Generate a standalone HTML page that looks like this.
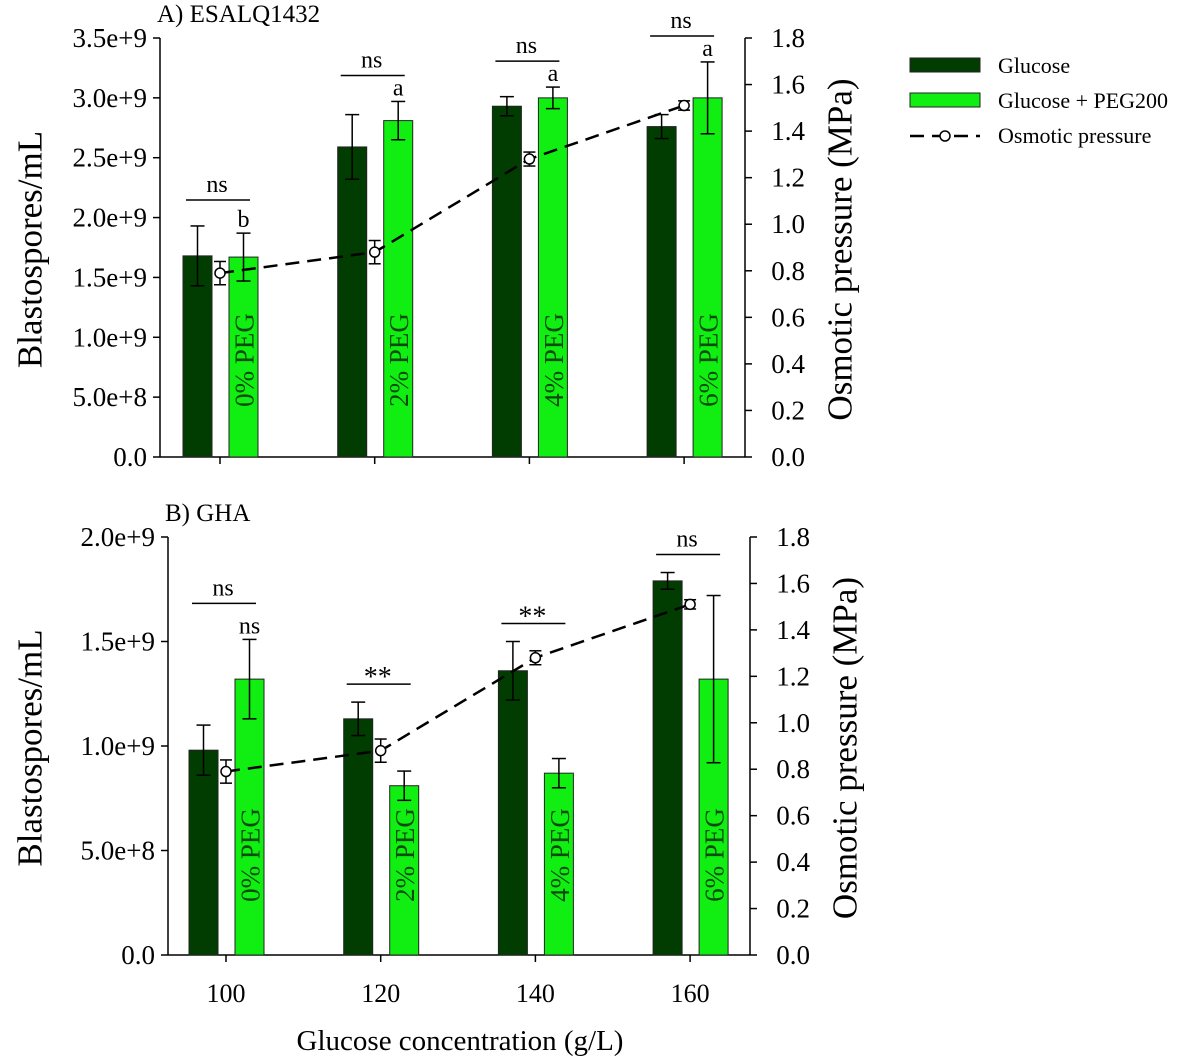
<!DOCTYPE html>
<html><head><meta charset="utf-8"><style>
body{margin:0;background:#fff}
svg text{font-family:"Liberation Serif",serif;fill:#000}
</style></head><body>
<svg id="c" width="1200" height="1057" xmlns="http://www.w3.org/2000/svg"></svg>
<script>
const categories=["100","120","140","160"];
const glucoseA=[1.68e9,2.59e9,2.93e9,2.76e9];
const glucoseErrA=[0.25e9,0.27e9,0.08e9,0.1e9];
const pegA=[1.67e9,2.81e9,3.0e9,3.0e9];
const pegErrA=[0.2e9,0.16e9,0.09e9,0.3e9];
const glucoseB=[0.98e9,1.13e9,1.36e9,1.79e9];
const glucoseErrB=[0.12e9,0.08e9,0.14e9,0.04e9];
const pegB=[1.32e9,0.81e9,0.87e9,1.32e9];
const pegErrB=[0.19e9,0.07e9,0.07e9,0.4e9];
const osmotic=[0.79,0.88,1.28,1.51];
const osmoticErr=[0.05,0.05,0.03,0.02];
const pegLabels=["0% PEG","2% PEG","4% PEG","6% PEG"];
const sigA=["ns","ns","ns","ns"];
const lettersA=["b","a","a","a"];
const sigB=["ns","**","**","ns"];
const lettersB=["ns","","",""];
const leftTicksA=["0.0","5.0e+8","1.0e+9","1.5e+9","2.0e+9","2.5e+9","3.0e+9","3.5e+9"];
const leftTicksB=["0.0","5.0e+8","1.0e+9","1.5e+9","2.0e+9"];
const rightTicks=["0.0","0.2","0.4","0.6","0.8","1.0","1.2","1.4","1.6","1.8"];

const svg=document.getElementById('c');
const NS="http://www.w3.org/2000/svg";
function el(tag,attrs,parent){const e=document.createElementNS(NS,tag);for(const k in attrs)e.setAttribute(k,attrs[k]);(parent||svg).appendChild(e);return e;}
function txt(s,attrs,parent){const e=el('text',attrs,parent);e.textContent=s;return e;}
const DARK="#013d01",LIGHT="#11ee11";

function panel(p){
  const g=el('g',{});
  
  
  const yL=v=>p.bottom-(v/p.lmax)*(p.bottom-p.top);
  const yR=v=>p.bottom-(v/1.8)*(p.bottom-p.top);
  const xC=i=>p.x0+i*p.step;
  el('line',{x1:p.left,y1:p.top,x2:p.left,y2:p.bottom,stroke:'#000','stroke-width':1.5},g);
  el('line',{x1:p.right,y1:p.top,x2:p.right,y2:p.bottom,stroke:'#000','stroke-width':1.5},g);
  el('line',{x1:p.left,y1:p.bottom,x2:p.right,y2:p.bottom,stroke:'#000','stroke-width':1.5},g);
  p.lticks.forEach((t,i)=>{const v=i*5e8;const y=yL(v);
    el('line',{x1:p.left-7,y1:y,x2:p.left,y2:y,stroke:'#000','stroke-width':1.5},g);
    const tt=txt(t,{x:p.left-13,y:y+9,'font-size':27,'text-anchor':'end'},g);
    });
  rightTicks.forEach((t,i)=>{const y=yR(i*0.2);
    el('line',{x1:p.right,y1:y,x2:p.right+7,y2:y,stroke:'#000','stroke-width':1.5},g);
    const tt=txt(t,{x:p.right+60,y:y+9,'font-size':27,'text-anchor':'end'},g);
    });
  categories.forEach((c,i)=>{
    el('line',{x1:xC(i),y1:p.bottom,x2:xC(i),y2:p.bottom+7,stroke:'#000','stroke-width':1.5},g);
    if(p.xlabels){const tt=txt(c,{x:xC(i),y:p.bottom+47,'font-size':26,'text-anchor':'middle'},g);
      }
  });
  categories.forEach((c,i)=>{
    const xd=xC(i)-37, xl=xC(i)+9, w=29;
    const b1=el('rect',{x:xd,y:yL(p.gl[i]),width:w,height:p.bottom-yL(p.gl[i]),fill:DARK,stroke:'#222','stroke-width':1},g);
    
    
    const b2=el('rect',{x:xl,y:yL(p.pg[i]),width:w,height:p.bottom-yL(p.pg[i]),fill:LIGHT,stroke:'#222','stroke-width':1},g);
    
    
    [[xd+w/2,p.gl[i],p.gle[i]],[xl+w/2,p.pg[i],p.pge[i]]].forEach(([x,v,e])=>{
      const y1=yL(v+e),y2=yL(v-e);
      el('line',{x1:x,y1:y1,x2:x,y2:y2,stroke:'#000','stroke-width':1.5},g);
      el('line',{x1:x-7,y1:y1,x2:x+7,y2:y1,stroke:'#000','stroke-width':1.5},g);
      el('line',{x1:x-7,y1:y2,x2:x+7,y2:y2,stroke:'#000','stroke-width':1.5},g);
    });
    const cx=xl+w/2+1, cy=p.pegTextY;
    const pt=txt(pegLabels[i],{x:cx,y:cy,'font-size':27,'text-anchor':'middle',transform:`rotate(-90 ${cx} ${cy})`,'dominant-baseline':'central'},g);
    pt.style.fill='#0a4a0a';
    
    const topY=Math.min(yL(p.gl[i]+p.gle[i]),yL(p.pg[i]+p.pge[i]))-(p.letters[i]?p.letterOff:18);
    el('line',{x1:xC(i)-34,y1:topY,x2:xC(i)+30,y2:topY,stroke:'#000','stroke-width':1.5},g);
    const st=txt(p.sig[i],{x:xC(i)-3,y:topY-(p.sig[i]=='**'?-2:8),'font-size':p.sig[i]=='**'?28:24,'text-anchor':'middle'},g);
    
    if(p.letters[i]){const lt=txt(p.letters[i],{x:xl+w/2,y:yL(p.pg[i]+p.pge[i])-6,'font-size':24,'text-anchor':'middle'},g);
      }
  });
  const pts=osmotic.map((v,i)=>[xC(i),yR(v)]);
  const ln=el('polyline',{points:pts.map(q=>q.join(',')).join(' '),fill:'none',stroke:'#000','stroke-width':2.5,'stroke-dasharray':'14,8'},g);
  
  osmotic.forEach((v,i)=>{const x=xC(i);const y1=yR(v+osmoticErr[i]),y2=yR(v-osmoticErr[i]);
    el('line',{x1:x,y1:y1,x2:x,y2:y2,stroke:'#000','stroke-width':1.5},g);
    el('line',{x1:x-6,y1:y1,x2:x+6,y2:y1,stroke:'#000','stroke-width':1.5},g);
    el('line',{x1:x-6,y1:y2,x2:x+6,y2:y2,stroke:'#000','stroke-width':1.5},g);
    const c=el('circle',{cx:x,cy:yR(v),r:5,fill:'#fff',stroke:'#000','stroke-width':1.5},g);
    
  });
  const tl=txt(p.title,{x:p.left-3,y:p.top-16,'font-size':25},g);
  
  const ly=(p.top+p.bottom)/2+2;
  const yt=txt('Blastospores/mL',{x:30,y:ly,'font-size':35,'text-anchor':'middle','dominant-baseline':'central',transform:`rotate(-90 30 ${ly})`},g);
  
  const rx=p.right+95;
  const rt=txt('Osmotic pressure (MPa)',{x:rx,y:ly,'font-size':35,'text-anchor':'middle','dominant-baseline':'central',transform:`rotate(-90 ${rx} ${ly})`},g);
  
}
panel({name:'panel-a',title:'A) ESALQ1432',left:160,right:745,top:38,bottom:457,lmax:3.5e9,x0:220,step:154.7,
  gl:glucoseA,gle:glucoseErrA,pg:pegA,pge:pegErrA,sig:sigA,letters:lettersA,lticks:leftTicksA,pegTextY:360,xlabels:false,letterOff:26});
panel({name:'panel-b',title:'B) GHA',left:168,right:750,top:537,bottom:955,lmax:2e9,x0:226,step:154.7,
  gl:glucoseB,gle:glucoseErrB,pg:pegB,pge:pegErrB,sig:sigB,letters:lettersB,lticks:leftTicksB,pegTextY:855,xlabels:true,letterOff:36});
const xt=txt('Glucose concentration (g/L)',{x:460,y:1050,'font-size':29,'text-anchor':'middle'});

const lg=el('g',{});


el('rect',{x:910,y:58,width:70,height:14,fill:DARK,stroke:'#222'},lg);
txt('Glucose',{x:998,y:73,'font-size':22},lg);
el('rect',{x:910,y:93,width:70,height:14,fill:LIGHT,stroke:'#222'},lg);
txt('Glucose + PEG200',{x:998,y:108,'font-size':22},lg);
el('line',{x1:910,y1:136,x2:980,y2:136,stroke:'#000','stroke-width':2.5,'stroke-dasharray':'14,8'},lg);
el('circle',{cx:945,cy:136,r:5,fill:'#fff',stroke:'#000','stroke-width':1.5},lg);
txt('Osmotic pressure',{x:998,y:143,'font-size':22},lg);
</script>
</body></html>
